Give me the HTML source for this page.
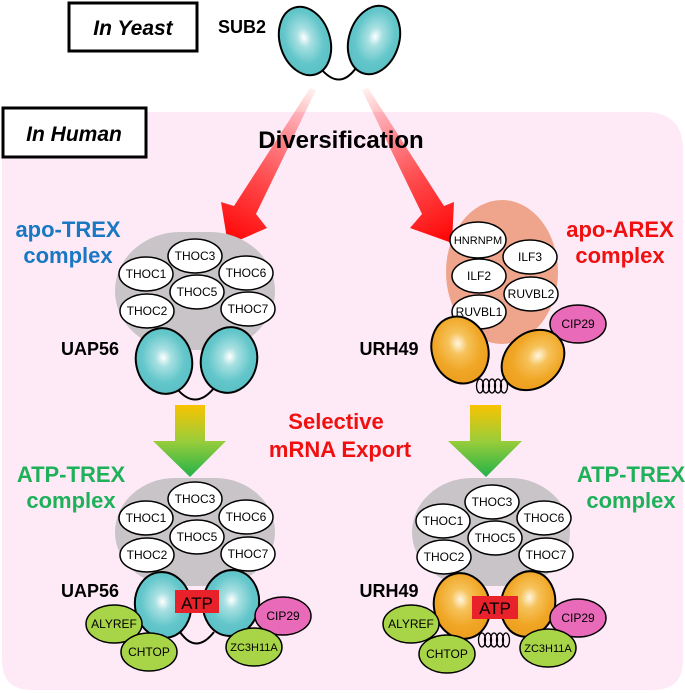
<!DOCTYPE html>
<html><head><meta charset="utf-8"><style>
html,body{margin:0;padding:0;background:#fff;}
svg{display:block;font-family:"Liberation Sans",Arial,sans-serif;}
</style></head><body>
<svg width="685" height="693" viewBox="0 0 685 693" xmlns="http://www.w3.org/2000/svg">
<defs>
<radialGradient id="teal" cx="0.5" cy="0.45" r="0.55">
<stop offset="0" stop-color="#ffffff"/><stop offset="0.25" stop-color="#a8e0e2"/><stop offset="0.7" stop-color="#62c6ca"/><stop offset="1" stop-color="#5bc0c5"/></radialGradient>
<radialGradient id="org" cx="0.5" cy="0.4" r="0.55">
<stop offset="0" stop-color="#fff6e0"/><stop offset="0.3" stop-color="#f6c25a"/><stop offset="0.75" stop-color="#f0a625"/><stop offset="1" stop-color="#eea020"/></radialGradient>
<linearGradient id="redL" x1="313" y1="88" x2="228" y2="245" gradientUnits="userSpaceOnUse">
<stop offset="0" stop-color="#ff0000" stop-opacity="0.05"/><stop offset="0.6" stop-color="#ff2020" stop-opacity="0.8"/><stop offset="1" stop-color="#ff0000"/></linearGradient>
<linearGradient id="redR" x1="365" y1="88" x2="452" y2="243" gradientUnits="userSpaceOnUse">
<stop offset="0" stop-color="#ff0000" stop-opacity="0.05"/><stop offset="0.6" stop-color="#ff2020" stop-opacity="0.8"/><stop offset="1" stop-color="#ff0000"/></linearGradient>
<linearGradient id="yg" x1="0" y1="0" x2="0" y2="1">
<stop offset="0" stop-color="#f8c300"/><stop offset="0.5" stop-color="#9acd3a"/><stop offset="1" stop-color="#22b24a"/></linearGradient>
</defs>

<!-- pink region -->
<path d="M2 112 H645 Q683 112 683 150 V660 Q683 690 653 690 H32 Q2 690 2 660 Z" fill="#fdeaf6"/>

<!-- boxes -->
<rect x="69" y="3" width="128" height="48" fill="#fff" stroke="#000" stroke-width="3"/>
<text x="133" y="35" font-size="21" font-weight="bold" font-style="italic" text-anchor="middle">In Yeast</text>
<rect x="3" y="108" width="143" height="49" fill="#fff" stroke="#000" stroke-width="3"/>
<text x="74" y="141" font-size="21" font-weight="bold" font-style="italic" text-anchor="middle">In Human</text>

<!-- SUB2 -->
<text x="242" y="33" font-size="18" font-weight="bold" text-anchor="middle">SUB2</text>
<path d="M322 70 Q340 90 356 68" fill="none" stroke="#000" stroke-width="2"/>
<ellipse cx="305" cy="41" rx="25" ry="35" transform="rotate(-18 305 41)" fill="url(#teal)" stroke="#000" stroke-width="2"/>
<ellipse cx="374" cy="40" rx="25" ry="35" transform="rotate(18 374 40)" fill="url(#teal)" stroke="#000" stroke-width="2"/>

<!-- red arrows -->
<polygon points="310,88 316,90 256,214 267,228 228,245 221,202 234,206" fill="url(#redL)"/>
<polygon points="362,90 368,88 444,206 454,202 452,243 410,228 422,214" fill="url(#redR)"/>
<text x="341" y="148" font-size="24" font-weight="bold" text-anchor="middle">Diversification</text>

<!-- apo-TREX -->
<text x="68" y="237" font-size="22" font-weight="bold" fill="#1a78c2" text-anchor="middle">apo-TREX</text>
<text x="68" y="263" font-size="22" font-weight="bold" fill="#1a78c2" text-anchor="middle">complex</text>
<rect x="115" y="232" width="160" height="118" rx="65" fill="#c8c4c8"/>
<g fill="#fff" stroke="#000" stroke-width="1.5" font-size="12">
<ellipse cx="195" cy="256" rx="27" ry="17"/><ellipse cx="146" cy="274" rx="27" ry="17"/><ellipse cx="246" cy="273" rx="27" ry="17"/>
<ellipse cx="197" cy="292" rx="27" ry="17"/><ellipse cx="147" cy="311" rx="27" ry="17"/><ellipse cx="248" cy="309" rx="27" ry="17"/>
</g>
<g font-size="12" text-anchor="middle">
<text x="195" y="260">THOC3</text><text x="146" y="278">THOC1</text><text x="246" y="277">THOC6</text>
<text x="197" y="296">THOC5</text><text x="147" y="315">THOC2</text><text x="248" y="313">THOC7</text>
</g>
<text x="90" y="355" font-size="18" font-weight="bold" text-anchor="middle">UAP56</text>
<path d="M178 390 Q196 410 214 388" fill="none" stroke="#000" stroke-width="2"/>
<ellipse cx="164" cy="361" rx="28" ry="33" transform="rotate(-12 164 361)" fill="url(#teal)" stroke="#000" stroke-width="2"/>
<ellipse cx="229" cy="360" rx="28" ry="33" transform="rotate(12 229 360)" fill="url(#teal)" stroke="#000" stroke-width="2"/>

<!-- apo-AREX -->
<text x="620" y="237" font-size="22" font-weight="bold" fill="#f01010" text-anchor="middle">apo-AREX</text>
<text x="620" y="263" font-size="22" font-weight="bold" fill="#f01010" text-anchor="middle">complex</text>
<ellipse cx="502" cy="272" rx="56" ry="72" fill="#efa58c"/>
<g fill="#fff" stroke="#000" stroke-width="1.5">
<ellipse cx="478" cy="240" rx="28" ry="18"/><ellipse cx="530" cy="257" rx="27" ry="17"/><ellipse cx="479" cy="276" rx="27" ry="17"/>
<ellipse cx="531" cy="294" rx="27" ry="17"/><ellipse cx="479" cy="312" rx="27" ry="17"/>
</g>
<g font-size="12" text-anchor="middle">
<text x="478" y="244" font-size="11">HNRNPM</text><text x="530" y="261">ILF3</text><text x="479" y="280">ILF2</text>
<text x="531" y="298">RUVBL2</text><text x="479" y="316">RUVBL1</text>
</g>
<ellipse cx="578" cy="324" rx="28" ry="19" fill="#e86ab9" stroke="#000" stroke-width="1.5"/>
<text x="578" y="328" font-size="12" text-anchor="middle">CIP29</text>
<text x="389" y="355" font-size="18" font-weight="bold" text-anchor="middle">URH49</text>
<g fill="none" stroke="#000" stroke-width="1.3">
<ellipse cx="480" cy="386" rx="3.5" ry="7"/><ellipse cx="486" cy="386" rx="3.5" ry="7"/><ellipse cx="492" cy="386" rx="3.5" ry="7"/><ellipse cx="498" cy="386" rx="3.5" ry="7"/><ellipse cx="504" cy="386" rx="3.5" ry="7"/>
</g>
<ellipse cx="460" cy="350" rx="28" ry="34" transform="rotate(-18 460 350)" fill="url(#org)" stroke="#000" stroke-width="2"/>
<ellipse cx="533" cy="360" rx="27" ry="34" transform="rotate(50 533 360)" fill="url(#org)" stroke="#000" stroke-width="2"/>

<!-- yellow-green arrows -->
<polygon points="175,405 205,405 205,441 226,441 190,477 153,441 175,441" fill="url(#yg)"/>
<polygon points="470,405 501,405 501,441 522,441 486,477 448,441 470,441" fill="url(#yg)"/>
<text x="336" y="429" font-size="22" font-weight="bold" fill="#f01010" text-anchor="middle">Selective</text>
<text x="340" y="457" font-size="22" font-weight="bold" fill="#f01010" text-anchor="middle">mRNA Export</text>

<text x="71" y="482" font-size="22" font-weight="bold" fill="#1fb05a" text-anchor="middle">ATP-TREX</text>
<text x="71" y="508" font-size="22" font-weight="bold" fill="#1fb05a" text-anchor="middle">complex</text>
<text x="631" y="482" font-size="22" font-weight="bold" fill="#1fb05a" text-anchor="middle">ATP-TREX</text>
<text x="631" y="508" font-size="22" font-weight="bold" fill="#1fb05a" text-anchor="middle">complex</text>

<!-- bottom left -->
<rect x="115" y="478" width="160" height="108" rx="60" fill="#c8c4c8"/>
<g fill="#fff" stroke="#000" stroke-width="1.5">
<ellipse cx="195" cy="499" rx="27" ry="17"/><ellipse cx="146" cy="518" rx="27" ry="17"/><ellipse cx="246" cy="517" rx="27" ry="17"/>
<ellipse cx="197" cy="537" rx="27" ry="17"/><ellipse cx="147" cy="555" rx="27" ry="17"/><ellipse cx="248" cy="554" rx="27" ry="17"/>
</g>
<g font-size="12" text-anchor="middle">
<text x="195" y="503">THOC3</text><text x="146" y="522">THOC1</text><text x="246" y="521">THOC6</text>
<text x="197" y="541">THOC5</text><text x="147" y="559">THOC2</text><text x="248" y="558">THOC7</text>
</g>
<text x="90" y="597" font-size="18" font-weight="bold" text-anchor="middle">UAP56</text>
<path d="M180 632 Q196 655 214 632" fill="none" stroke="#000" stroke-width="2"/>
<ellipse cx="163" cy="605" rx="28" ry="33" transform="rotate(-8 163 605)" fill="url(#teal)" stroke="#000" stroke-width="2"/>
<ellipse cx="231" cy="603" rx="28" ry="33" transform="rotate(8 231 603)" fill="url(#teal)" stroke="#000" stroke-width="2"/>
<rect x="175" y="590" width="44" height="23" fill="#e8212a"/>
<text x="197" y="609" font-size="17" text-anchor="middle">ATP</text>
<g stroke="#000" stroke-width="1.5">
<ellipse cx="114" cy="624" rx="28" ry="19" fill="#a8d448"/><ellipse cx="149" cy="652" rx="28" ry="19" fill="#a8d448"/>
<ellipse cx="283" cy="616" rx="28" ry="19" fill="#e86ab9"/><ellipse cx="254" cy="647" rx="28" ry="19" fill="#a8d448"/>
</g>
<g font-size="12" text-anchor="middle">
<text x="114" y="628">ALYREF</text><text x="149" y="656">CHTOP</text><text x="283" y="620">CIP29</text><text x="254" y="651" font-size="11">ZC3H11A</text>
</g>

<!-- bottom right -->
<rect x="412" y="478" width="158" height="108" rx="60" fill="#c8c4c8"/>
<g fill="#fff" stroke="#000" stroke-width="1.5">
<ellipse cx="492" cy="502" rx="27" ry="17"/><ellipse cx="443" cy="521" rx="27" ry="17"/><ellipse cx="544" cy="518" rx="27" ry="17"/>
<ellipse cx="495" cy="538" rx="27" ry="17"/><ellipse cx="444" cy="557" rx="27" ry="17"/><ellipse cx="546" cy="555" rx="27" ry="17"/>
</g>
<g font-size="12" text-anchor="middle">
<text x="492" y="506">THOC3</text><text x="443" y="525">THOC1</text><text x="544" y="522">THOC6</text>
<text x="495" y="542">THOC5</text><text x="444" y="561">THOC2</text><text x="546" y="559">THOC7</text>
</g>
<text x="389" y="597" font-size="18" font-weight="bold" text-anchor="middle">URH49</text>
<g fill="none" stroke="#000" stroke-width="1.3">
<ellipse cx="482" cy="640" rx="3.5" ry="7"/><ellipse cx="488" cy="640" rx="3.5" ry="7"/><ellipse cx="494" cy="640" rx="3.5" ry="7"/><ellipse cx="500" cy="640" rx="3.5" ry="7"/><ellipse cx="506" cy="640" rx="3.5" ry="7"/>
</g>
<ellipse cx="462" cy="606" rx="28" ry="33" transform="rotate(-12 462 606)" fill="url(#org)" stroke="#000" stroke-width="2"/>
<ellipse cx="528" cy="604" rx="27" ry="33" transform="rotate(12 528 604)" fill="url(#org)" stroke="#000" stroke-width="2"/>
<rect x="472" y="596" width="46" height="23" fill="#e8212a"/>
<text x="495" y="614" font-size="17" text-anchor="middle">ATP</text>
<g stroke="#000" stroke-width="1.5">
<ellipse cx="411" cy="624" rx="28" ry="19" fill="#a8d448"/><ellipse cx="447" cy="654" rx="28" ry="19" fill="#a8d448"/>
<ellipse cx="578" cy="618" rx="28" ry="19" fill="#e86ab9"/><ellipse cx="548" cy="648" rx="28" ry="19" fill="#a8d448"/>
</g>
<g font-size="12" text-anchor="middle">
<text x="411" y="628">ALYREF</text><text x="447" y="658">CHTOP</text><text x="578" y="622">CIP29</text><text x="548" y="652" font-size="11">ZC3H11A</text>
</g>
</svg>
</body></html>
